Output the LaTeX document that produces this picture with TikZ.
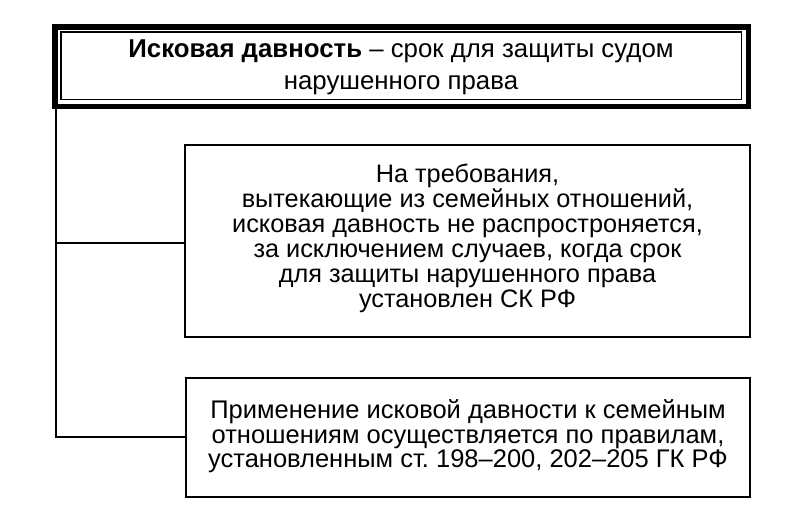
\documentclass[tikz,border=0pt]{standalone}
\usepackage{fontspec}
\setmainfont{Liberation Sans}
\begin{document}
\begin{tikzpicture}[x=1pt,y=-1pt,
  txtbox/.style={draw=black,line width=1.5pt,inner sep=0pt},
  conn/.style={draw=black,line width=1.5pt},
  body/.style={align=center,inner sep=0pt}]
\useasboundingbox[fill=white] (0,0) rectangle (794,520);
% top box
\node[draw=black,line width=5.5pt,minimum width=693.5pt,minimum height=79.5pt,inner sep=0pt] (top) at (401.5,66.5) {};
\node[draw=black,line width=1.2pt,minimum width=680.5pt,minimum height=67.5pt,inner sep=0pt] (topin) at (401.25,65.75) {};
\node[body,font=\fontsize{25.8}{32}\selectfont] (toptext) at (401,67)
  {\textbf{Исковая давность} – срок для защиты судом\\нарушенного права};
% box 2
\node[txtbox,minimum width=565pt,minimum height=192pt] (b2) at (467.5,241) {};
\node[body,font=\fontsize{25.3}{25}\selectfont] (t2) at (467.5,238)
  {На требования,\\вытекающие из семейных отношений,\\исковая давность не распростроняется,\\за исключением случаев, когда срок\\для защиты нарушенного права\\установлен СК РФ};
% box 3
\node[txtbox,minimum width=564pt,minimum height=119pt] (b3) at (468,437.5) {};
\node[body,font=\fontsize{25.5}{24.6}\selectfont] (t3) at (468,436.5)
  {Применение исковой давности к семейным\\отношениям осуществляется по правилам,\\установленным ст.\ 198–200, 202–205 ГК РФ};
% connectors
\coordinate (c2) at (56,243);
\coordinate (c3) at (56,437);
\draw[conn] (top.south -| c2) -- (c3) -- (b3.west |- c3);
\draw[conn] (c2) -- (b2.west |- c2);
\end{tikzpicture}
\end{document}
